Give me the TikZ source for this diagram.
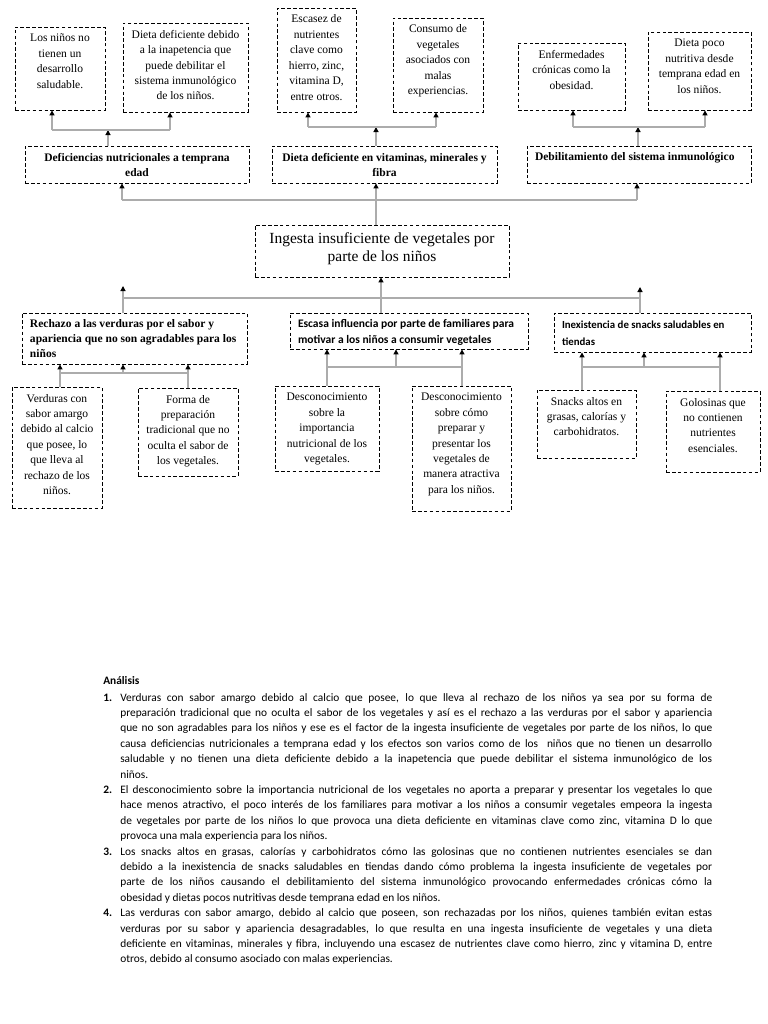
\documentclass[tikz,border=0pt]{standalone}
\usepackage{fontspec}
\setmainfont{Liberation Serif}
\newfontfamily\calfont{Carlito}
\usepackage{enumitem}
\usetikzlibrary{arrows.meta}

\newlength\px
\setlength\px{0.025cm}
\newcommand{\cell}[3]{\parbox[c][#2\px][t]{#1\px}{\centering\vspace*{3\px}#3}}
\newcommand{\lcell}[3]{\parbox[c][#2\px][t]{#1\px}{\raggedright\leftskip=5\px\vspace*{2\px}#3}}

\begin{document}
\begin{tikzpicture}[
    x=0.025cm, y=-0.025cm,
    font=\fontsize{8.2}{11}\selectfont,
    cellbox/.style={
        draw=black,
        line width=0.6pt,
        dash pattern=on 2.6pt off 1.6pt,
        inner xsep=0.075cm,
        inner ysep=0.1cm
    },
    headbox/.style={
        cellbox,
        font=\bfseries\fontsize{8.2}{11}\selectfont
    },
    sanshead/.style={
        cellbox,
        font=\calfont\bfseries\fontsize{7.7}{12}\selectfont
    },
    mainbox/.style={
        cellbox,
        inner ysep=0.125cm,
        font=\fontsize{11}{12.8}\selectfont
    },
    link/.style={draw=gray!65, line width=0.8pt},
    arr/.style={link, -{Triangle[color=black, width=3.6pt, length=3.6pt]}}
]
\useasboundingbox (0,0) rectangle (768,1024);

% problem
\node[mainbox] (ingesta) at (382,251)
{\cell{248}{42}{Ingesta insuficiente de vegetales por\\ parte de los niños}};

% effects
\node[headbox] (deficiencias) at (137,164.5)
{\cell{218}{29}{Deficiencias nutricionales a temprana\\ edad}};
\node[headbox] (dieta) at (384.5,164.5)
{\cell{219}{29}{Dieta deficiente en vitaminas, minerales y\\ fibra}};
\node[headbox] (debil) at (639,164.5)
{\lcell{218}{29}{Debilitamiento del sistema inmunológico}};

% consequences of the effects
\node[cellbox] (ninos) at (60,68.5)
{\cell{84}{75}{Los niños no\\ tienen un\\ desarrollo\\ saludable.}};
\node[cellbox] (inapet) at (185.5,67.5)
{\cell{119}{81}{Dieta deficiente debido\\ a la inapetencia que\\ puede debilitar el\\ sistema inmunológico\\ de los niños.}};
\node[cellbox] (escasez) at (316.5,60)
{\cell{73}{96}{Escasez de\\ nutrientes\\ clave como\\ hierro, zinc,\\ vitamina D,\\ entre otros.}};
\node[cellbox] (consumo) at (438,65)
{\cell{84}{86}{Consumo de\\ vegetales\\ asociados con\\ malas\\ experiencias.}};
\node[cellbox] (enferm) at (571.5,76.5)
{\cell{101}{59}{Enfermedades\\ crónicas como la\\ obesidad.}};
\node[cellbox] (poconut) at (699.5,71)
{\cell{97}{70}{Dieta poco\\ nutritiva desde\\ temprana edad en\\ los niños.}};

% causes
\node[headbox] (rechazo) at (134.5,338.5)
{\lcell{219}{43}{Rechazo a las verduras por el sabor y\\ apariencia que no son agradables para los\\ niños}};
\node[sanshead, font=\calfont\bfseries\fontsize{8.2}{12}\selectfont] (escasa) at (409,331)
{\lcell{232}{28}{Escasa influencia por parte de familiares para\\ motivar a los niños a consumir vegetales}};
\node[sanshead] (inexist) at (652.5,332.5)
{\lcell{191}{31}{\vspace*{2\px}Inexistencia de snacks saludables en\\ tiendas}};

% root causes
\node[cellbox] (verduras) at (57,447.5)
{\cell{84}{113}{Verduras con\\ sabor amargo\\ debido al calcio\\ que posee, lo\\ que lleva al\\ rechazo de los\\ niños.}};
\node[cellbox] (forma) at (188,432)
{\cell{94}{80}{Forma de\\ preparación\\ tradicional que no\\ oculta el sabor de\\ los vegetales.}};
\node[cellbox] (desc1) at (327,428.5)
{\cell{98}{77}{Desconocimiento\\ sobre la\\ importancia\\ nutricional de los\\ vegetales.}};
\node[cellbox] (desc2) at (461.5,448.5)
{\cell{93}{117}{Desconocimiento\\ sobre cómo\\ preparar y\\ presentar los\\ vegetales de\\ manera atractiva\\ para los niños.}};
\node[cellbox] (snacks) at (586.5,424)
{\cell{93}{60}{Snacks altos en\\ grasas, calorías y\\ carbohidratos.}};
\node[cellbox] (golos) at (713,431.5)
{\cell{88}{73}{Golosinas que\\ no contienen\\ nutrientes\\ esenciales.}};

% junctions
\coordinate (hU) at (376,200);
\coordinate (hU1) at (122,200);
\coordinate (hU3) at (637,200);
\coordinate (jA) at (108,130);
\coordinate (jA1) at (52,130);
\coordinate (jA2) at (170,130);
\coordinate (jB) at (376,127);
\coordinate (jB1) at (308,127);
\coordinate (jB2) at (436,127);
\coordinate (jC) at (638,127);
\coordinate (jC1) at (573,127);
\coordinate (jC2) at (705,127);
\coordinate (hD) at (381,298);
\coordinate (hD1) at (123,298);
\coordinate (hD3) at (640,298);
\coordinate (tipL) at (123,286);
\coordinate (tipR) at (640,287);
\coordinate (jR) at (123,373);
\coordinate (jR1) at (60,373);
\coordinate (jR2) at (188,373);
\coordinate (jS) at (396,367);
\coordinate (jS1) at (327,367);
\coordinate (jS2) at (462,367);
\coordinate (jI) at (644,367);
\coordinate (jI1) at (582,367);
\coordinate (jI2) at (720,367);

% problem -> effects
\draw[arr] (ingesta.north -| hU) -- (hU |- dieta.south);
\draw[link] (hU1) -- (hU3);
\draw[arr] (hU1) -- (hU1 |- deficiencias.south);
\draw[arr] (hU3) -- (hU3 |- debil.south);

% effects -> consequences
\draw[arr] (deficiencias.north -| jA) -- (jA);
\draw[link] (jA1) -- (jA2);
\draw[arr] (jA1) -- (jA1 |- ninos.south);
\draw[arr] (jA2) -- (jA2 |- inapet.south);

\draw[arr] (dieta.north -| jB) -- (jB);
\draw[link] (jB1) -- (jB2);
\draw[arr] (jB1) -- (jB1 |- escasez.south);
\draw[arr] (jB2) -- (jB2 |- consumo.south);

\draw[arr] (debil.north -| jC) -- (jC);
\draw[link] (jC1) -- (jC2);
\draw[arr] (jC1) -- (jC1 |- enferm.south);
\draw[arr] (jC2) -- (jC2 |- poconut.south);

% causes -> problem
\draw[arr] (escasa.north -| hD) -- (hD |- ingesta.south);
\draw[link] (hD1) -- (hD3);
\draw[arr] (rechazo.north -| tipL) -- (tipL);
\draw[arr] (inexist.north -| tipR) -- (tipR);

% root causes -> causes
\draw[link] (jR1) -- (jR2);
\draw[arr] (verduras.north -| jR1) -- (jR1 |- rechazo.south);
\draw[arr] (forma.north -| jR2) -- (jR2 |- rechazo.south);
\draw[arr] (jR) -- (jR |- rechazo.south);

\draw[link] (jS1) -- (jS2);
\draw[arr] (desc1.north -| jS1) -- (jS1 |- escasa.south);
\draw[arr] (desc2.north -| jS2) -- (jS2 |- escasa.south);
\draw[arr] (jS) -- (jS |- escasa.south);

\draw[link] (jI1) -- (jI2);
\draw[arr] (snacks.north -| jI1) -- (jI1 |- inexist.south);
\draw[arr] (golos.north -| jI2) -- (jI2 |- inexist.south);
\draw[arr] (jI) -- (jI |- inexist.south);

% analysis text
\node[anchor=north west, inner sep=0, font=\calfont\fontsize{8.1}{10.95}\selectfont] (analisis) at (103,676)
{\begin{minipage}{609\px}
\tolerance=9999 \hyphenpenalty=10000
\textbf{Análisis}
\begin{enumerate}[label=\textbf{\arabic*.}, leftmargin=17\px, labelwidth=10\px, labelsep=7\px, align=left, nosep, topsep=1pt]
\item Verduras con sabor amargo debido al calcio que posee, lo que lleva al rechazo de los niños ya sea por su forma de\linebreak
preparación tradicional que no oculta el sabor de los vegetales y así es el rechazo a las verduras por el sabor y apariencia\linebreak
que no son agradables para los niños y ese es el factor de la ingesta insuficiente de vegetales por parte de los niños, lo que\linebreak
causa deficiencias nutricionales a temprana edad y los efectos son varios como de los~ niños que no tienen un desarrollo\linebreak
saludable y no tienen una dieta deficiente debido a la inapetencia que puede debilitar el sistema inmunológico de los\linebreak
niños.
\item El desconocimiento sobre la importancia nutricional de los vegetales no aporta a preparar y presentar los vegetales lo que\linebreak
hace menos atractivo, el poco interés de los familiares para motivar a los niños a consumir vegetales empeora la ingesta\linebreak
de vegetales por parte de los niños lo que provoca una dieta deficiente en vitaminas clave como zinc, vitamina D lo que\linebreak
provoca una mala experiencia para los niños.
\item Los snacks altos en grasas, calorías y carbohidratos cómo las golosinas que no contienen nutrientes esenciales se dan\linebreak
debido a la inexistencia de snacks saludables en tiendas dando cómo problema la ingesta insuficiente de vegetales por\linebreak
parte de los niños causando el debilitamiento del sistema inmunológico provocando enfermedades crónicas cómo la\linebreak
obesidad y dietas pocos nutritivas desde temprana edad en los niños.
\item Las verduras con sabor amargo, debido al calcio que poseen, son rechazadas por los niños, quienes también evitan estas\linebreak
verduras por su sabor y apariencia desagradables, lo que resulta en una ingesta insuficiente de vegetales y una dieta\linebreak
deficiente en vitaminas, minerales y fibra, incluyendo una escasez de nutrientes clave como hierro, zinc y vitamina D, entre\linebreak
otros, debido al consumo asociado con malas experiencias.
\end{enumerate}
\end{minipage}};

\end{tikzpicture}
\end{document}
